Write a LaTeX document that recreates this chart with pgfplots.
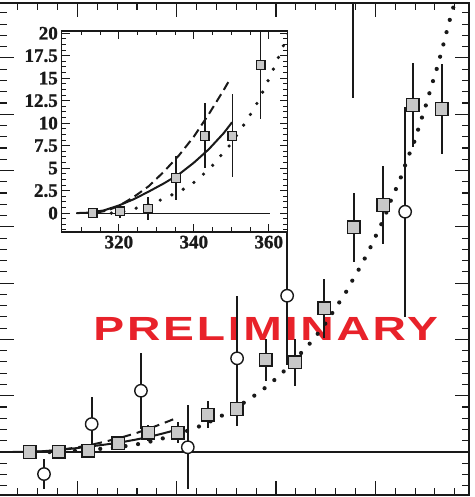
\documentclass[border=0pt]{standalone}
\usepackage{fontspec}
\setmainfont{Liberation Serif}
\newfontfamily\prelimfont{Liberation Sans Bold}[LetterSpace=6]
\newfontfamily\tickfont{Liberation Serif Bold}[FakeBold=1.2]
\usepackage{graphicx}
\usepackage{pgfplots}
\pgfplotsset{compat=1.18}
\usepackage{pgfplotstable}
\definecolor{sqgray}{RGB}{200,200,200}
\definecolor{prelimred}{RGB}{232,34,42}
\definecolor{ink}{RGB}{25,25,25}

\pgfplotstableread{
x y e
313.0 0.0 0.5
320.3 0.2 0.7
327.8 0.5 1.3
335.3 3.9 2.4
342.9 8.6 3.6
350.3 8.6 4.6
357.8 16.5 6.0
365.1 19.1 7.4
372.4 40.9 9.3
379.8 39.8 10.3
387.2 63.8 13.0
394.6 99.8 15.3
402.0 109.7 17.2
409.4 154.1 18.8
416.7 152.3 20.0
}\sqdata

\pgfplotstableread{
x y e
316.6 -9.8 6.7
328.6 12.4 12.2
341.0 27.2 16.8
352.8 2.1 18.7
365.2 41.6 27.5
377.8 69.4 30.8
394.3 235.0 78.0
407.5 106.7 46.6
}\circdata

\pgfplotstableread{
x y
318.0 0.0
322.0 0.25
326.0 0.7
330.0 1.25
334.0 2.0
337.0 2.6
340.0 3.4
342.5 4.3
345.0 5.3
347.0 6.3
349.0 7.2
351.0 8.4
353.0 9.6
355.0 10.9
357.0 12.3
359.0 14.0
361.0 15.8
363.0 17.7
365.0 19.7
367.0 22.0
369.2 24.6
371.9 28.0
374.3 31.5
376.7 35.4
378.9 39.1
381.0 43.4
383.0 47.1
385.1 51.6
387.3 56.7
390.6 65.6
392.3 70.0
393.8 74.9
395.4 79.7
396.9 84.5
398.4 89.5
399.7 94.4
401.0 99.3
402.4 104.5
403.5 110.0
404.7 114.9
406.0 120.0
407.1 125.2
408.1 130.6
409.4 135.6
410.4 141.1
411.3 146.2
412.3 151.6
413.2 156.7
414.0 161.9
415.0 167.4
415.9 172.9
416.7 178.2
417.5 183.4
418.3 189.2
419.1 194.2
419.6 197.3
420.2 201.0
}\dotdata

\pgfplotstableread{
x y
308.7 0.0
312.0 0.05
316.0 0.3
320.0 0.85
324.0 1.55
328.0 2.4
332.0 3.3
336.0 4.3
340.0 5.6
344.0 7.1
348.0 8.9
350.2 10.1
}\soliddata

\pgfplotstableread{
x y
314.0 0.05
317.0 0.3
320.0 0.8
324.0 1.8
328.0 3.0
332.0 4.6
336.0 6.4
340.0 8.5
344.0 11.0
348.0 13.7
349.8 15.0
}\dashdata

\begin{document}
\begin{tikzpicture}
\path[use as bounding box] (0.5pt,-2pt) rectangle (474.5pt,495pt);
% main axis
\begin{axis}[
  at={(0pt,0pt)}, anchor=south west,
  scale only axis, width=469.2pt, height=492pt,
  xmin=305.4, xmax=423.5, ymin=-19.1, ymax=199.4,
  xtick={325,350,375,400},
  minor xtick={310,315,320,330,335,340,345,355,360,365,370,380,385,390,395,405,410,415,420},
  ytick={0,25,50,75,100,125,150,175},
  minor ytick={-15,-10,-5,5,10,15,20,30,35,40,45,55,60,65,70,80,85,90,95,105,110,115,120,130,135,140,145,155,160,165,170,180,185,190,195},
  xticklabels={}, yticklabels={},
  major tick length=14pt, minor tick length=7pt,
  every tick/.style={line width=1.1pt, ink},
  axis line style={line width=1.6pt, ink},
]
\node[anchor=base west, inner sep=0pt, text=prelimred,
      font=\prelimfont\fontsize{33.5}{33.5}\selectfont]
  at (axis cs:329.0,49.4) {\scalebox{1.38}[1]{PRELIMINARY}};
\addplot[line width=1.5pt, ink] coordinates {(309.2,0) (420,0)};
\addplot[only marks, ink, line width=2pt, mark=square*, mark size=6.3pt,
  mark options={fill=sqgray, draw=ink, line width=1.4pt},
  error bars/.cd, y dir=both, y explicit, error mark=none,
  error bar style={line width=2pt, ink}]
  table[x=x, y=y, y error=e] {\sqdata};
\addplot[only marks, ink, line width=2pt, mark=*, mark size=6.2pt,
  mark options={fill=white, draw=ink, line width=1.4pt},
  error bars/.cd, y dir=both, y explicit, error mark=none,
  error bar style={line width=2pt, ink}]
  table[x=x, y=y, y error=e] {\circdata};
\addplot[ink, line width=4.2pt, line cap=round, dash pattern=on 0pt off 12.7pt]
  table[x=x, y=y] {\dotdata};
\addplot[ink, line width=2pt] table[x=x, y=y] {\soliddata};
\addplot[ink, line width=2pt, dash pattern=on 9pt off 6pt] table[x=x, y=y] {\dashdata};
\end{axis}
% inset
\begin{axis}[
  at={(62pt,263pt)}, anchor=south west,
  scale only axis, width=226pt, height=201pt,
  xmin=304.7, xmax=365, ymin=-2.1, ymax=20.25,
  axis background/.style={fill=white},
  xtick={320,340,360}, xticklabels={320,340,360},
  minor xtick={310,315,325,330,335,345,350,355},
  ytick={0,2.5,5,7.5,10,12.5,15,17.5,20},
  yticklabels={0,2.5,5,7.5,10,12.5,15,17.5,20},
  minor ytick={-1.875,-1.25,-0.625,0.625,1.25,1.875,3.125,3.75,4.375,5.625,6.25,6.875,8.125,8.75,9.375,10.625,11.25,11.875,13.125,13.75,14.375,15.625,16.25,16.875,18.125,18.75,19.375},
  major tick length=8pt, minor tick length=4.5pt,
  every tick/.style={line width=1pt, ink},
  axis line style={line width=1.8pt, ink},
  /pgf/number format/assume math mode=true,
  tick label style={font=\tickfont\fontsize{19}{19}\selectfont, text=ink, inner sep=3.5pt},
]
\addplot[line width=1pt, ink] coordinates {(308.7,0) (360.3,0)};
\addplot[only marks, ink, line width=1.8pt, mark=square*, mark size=4.4pt,
  mark options={fill=sqgray, draw=ink, line width=1.2pt},
  error bars/.cd, y dir=both, y explicit, error mark=none,
  error bar style={line width=1.8pt, ink}]
  table[x=x, y=y, y error=e] {\sqdata};
\addplot[ink, line width=3.6pt, line cap=round, dash pattern=on 0pt off 12.7pt]
  table[x=x, y=y] {\dotdata};
\addplot[ink, line width=2pt] table[x=x, y=y] {\soliddata};
\addplot[ink, line width=2pt, dash pattern=on 9pt off 5pt] table[x=x, y=y] {\dashdata};
\end{axis}
\end{tikzpicture}
\end{document}
